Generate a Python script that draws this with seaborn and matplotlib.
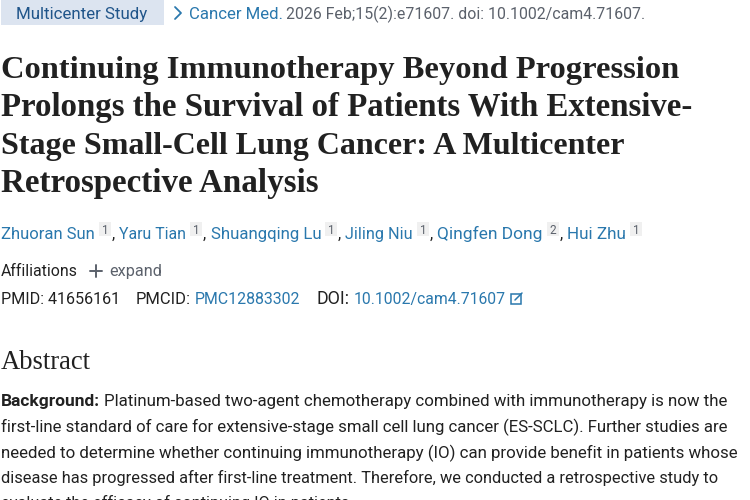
import matplotlib
matplotlib.use("Agg")
import matplotlib.pyplot as plt
from matplotlib.patches import Rectangle
import seaborn as sns

sns.set_theme(style="white")
SANS = ["Roboto", "DejaVu Sans"]
SERIF = ["Liberation Serif"]
plt.rcParams["font.family"] = SANS

BLUE = "#2a78ad"
DARK = "#212121"
GREY = "#5b616b"

study_tag = "Multicenter Study"
journal = "Cancer Med."
citation = "2026 Feb;15(2):e71607. doi: 10.1002/cam4.71607."
title_lines = [
    "Continuing Immunotherapy Beyond Progression",
    "Prolongs the Survival of Patients With Extensive-",
    "Stage Small-Cell Lung Cancer: A Multicenter",
    "Retrospective Analysis",
]
authors = ["Zhuoran Sun", "Yaru Tian", "Shuangqing Lu", "Jiling Niu", "Qingfen Dong", "Hui Zhu"]
author_sups = ["1", "1", "1", "1", "2", "1"]
abstract_lines = [
    "first-line standard of care for extensive-stage small cell lung cancer (ES-SCLC). Further studies are",
    "needed to determine whether continuing immunotherapy (IO) can provide benefit in patients whose",
    "disease has progressed after first-line treatment. Therefore, we conducted a retrospective study to",
    "evaluate the efficacy of continuing IO in patients...",
]

fig = plt.figure(figsize=(7.5, 5), dpi=100, facecolor="white")
ax = fig.add_axes([0, 0, 1, 1])
ax.set_xlim(0, 750)
ax.set_ylim(500, 0)
ax.axis("off")
renderer = fig.canvas.get_renderer()


def put(s, x0, x1, base, color=DARK, family=SANS, weight="normal", size=11.5):
    """Draw text on a baseline, sized so it spans x0..x1 pixels."""
    t = ax.text(x0, base, s, color=color, family=family, weight=weight,
                fontsize=size, va="baseline", ha="left", clip_on=True)
    for _ in range(3):
        w = t.get_window_extent(renderer).width
        t.set_fontsize(t.get_fontsize() * (x1 - x0) / w)
    return t


# header tag and citation
ax.add_patch(Rectangle((1, 0), 163, 25, facecolor="#dce4f0", edgecolor="none"))
put(study_tag, 16, 147, 19, color="#20558a")
ax.plot([175, 181, 175], [7, 13, 19], color=BLUE, lw=1.3)
put(journal, 189, 283, 19, color=BLUE)
put(citation, 286, 647, 19, color=GREY)

# title
title_ends = [679, 695, 625, 319]
title_bases = [78, 116, 154, 192]
for s, e, b in zip(title_lines, title_ends, title_bases):
    put(s, 1, e, b, family=SERIF, weight="bold", size=20)

# authors
author_spans = [(1, 95), (119, 186), (211, 321), (345, 413), (437, 543), (567, 626)]
for i, (name, sup, (a, b)) in enumerate(zip(authors, author_sups, author_spans)):
    put(name, a, b, 239, color=BLUE)
    ax.add_patch(Rectangle((b + 4, 222), 12, 14, facecolor="#f0f0f0", edgecolor="none"))
    ax.text(b + 10, 234, sup, color=GREY, fontsize=8.5, ha="center", va="baseline")
    if i < len(authors) - 1:
        ax.text(b + 17, 239, ",", color=DARK, fontsize=11.5, va="baseline")

# affiliations
put("Affiliations", 1, 78, 276)
ax.plot([90, 102], [271, 271], color=GREY, lw=1.4)
ax.plot([96, 96], [265, 277], color=GREY, lw=1.4)
put("expand", 109, 162, 276, color=GREY)

# identifiers
put("PMID: 41656161", 1, 120, 304)
put("PMCID:", 136, 191, 304)
put("PMC12883302", 195, 301, 304, color=BLUE)
put("DOI:", 317, 350, 304)
put("10.1002/cam4.71607", 354, 505, 304, color=BLUE)
ax.add_patch(Rectangle((511, 294), 10, 10, facecolor="none", edgecolor=BLUE, lw=1.1))
ax.plot([515, 522], [300, 293], color=BLUE, lw=1.1)

# abstract
put("Abstract", 1, 91, 369, family=SERIF, size=16)
put("Background:", 1, 100, 406, weight="bold")
put("Platinum-based two-agent chemotherapy combined with immunotherapy is now the", 104, 726, 406)
body_ends = [725, 736, 718, 361]
body_bases = [432, 458, 483, 508]
for s, e, b in zip(abstract_lines, body_ends, body_bases):
    put(s, 1, e, b)

fig.savefig("out.png", dpi=100, facecolor="white")
